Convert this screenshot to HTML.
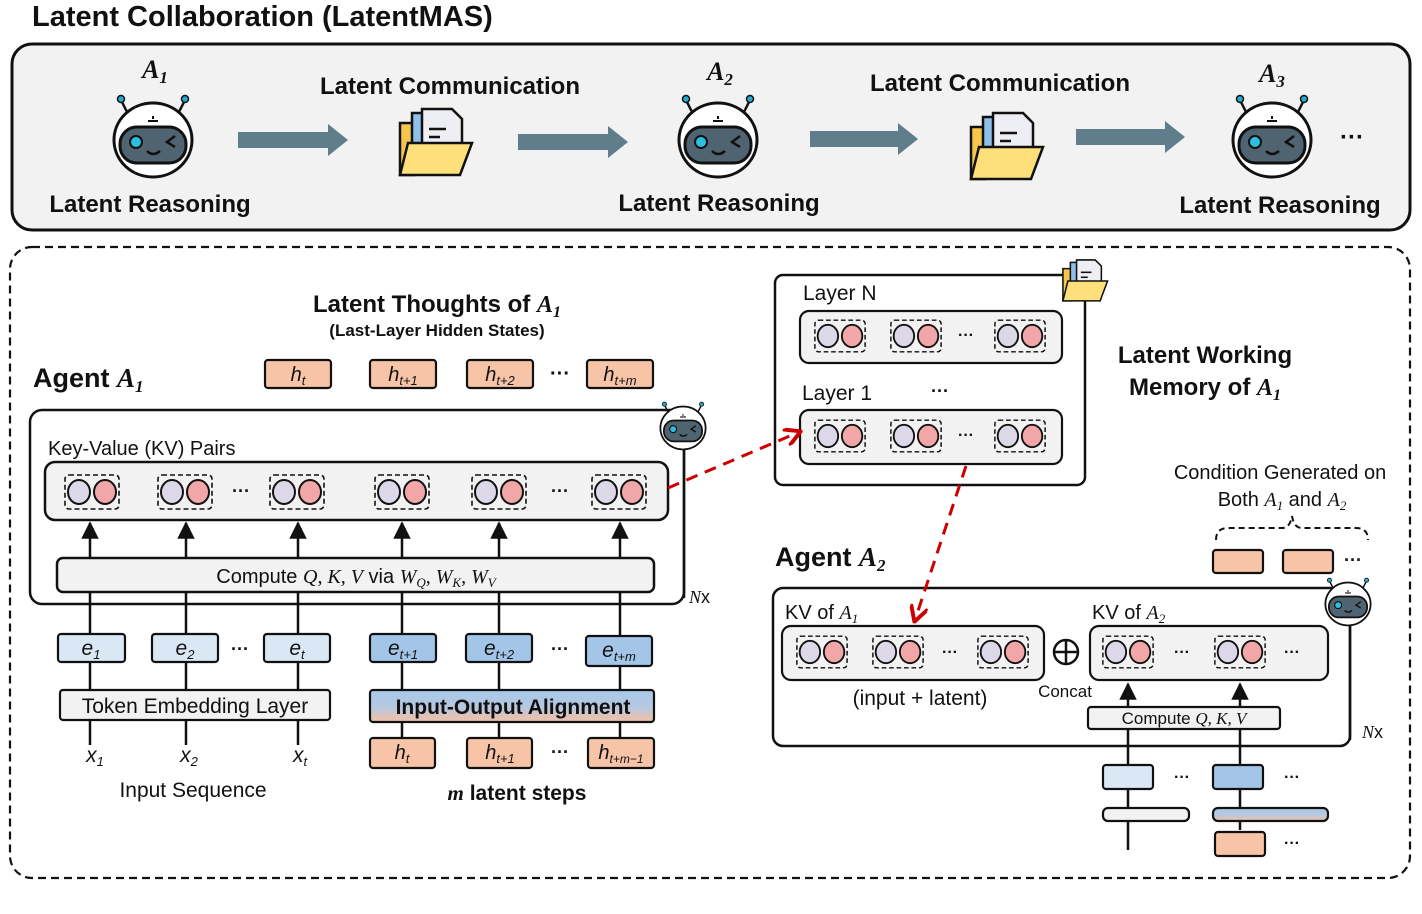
<!DOCTYPE html>
<html><head><meta charset="utf-8"><style>
html,body{margin:0;padding:0;background:#fff;}
svg{display:block;}
text{font-family:"Liberation Sans",sans-serif;fill:#111;}
.b{font-weight:bold;}
.m{font-family:"Liberation Serif",serif;font-style:italic;}
</style></head><body>
<svg width="1422" height="914" viewBox="0 0 1422 914" xmlns="http://www.w3.org/2000/svg">
<defs>
<linearGradient id="io" x1="0" y1="0" x2="0" y2="1"><stop offset="0" stop-color="#a8c8ea"/><stop offset="0.55" stop-color="#b6c8e0"/><stop offset="1" stop-color="#f6c0a4"/></linearGradient>
<g id="robot">
 <line x1="-26" y1="-28" x2="-32" y2="-40" stroke="#111" stroke-width="2.5"/>
 <line x1="26" y1="-28" x2="32" y2="-40" stroke="#111" stroke-width="2.5"/>
 <circle cx="-32" cy="-41" r="3.5" fill="#29a8d8" stroke="#111" stroke-width="1.5"/>
 <circle cx="32" cy="-41" r="3.5" fill="#29a8d8" stroke="#111" stroke-width="1.5"/>
 <ellipse cx="0" cy="0" rx="39" ry="37" fill="#fff" stroke="#111" stroke-width="3"/>
 <line x1="-5" y1="-19" x2="5" y2="-19" stroke="#111" stroke-width="2"/>
 <line x1="0" y1="-24" x2="0" y2="-21" stroke="#111" stroke-width="2"/>
 <rect x="-33" y="-13" width="66" height="36" rx="17" fill="#4f6470" stroke="#111" stroke-width="3"/>
 <circle cx="-17" cy="2" r="6" fill="#2bc0e0" stroke="#111" stroke-width="2"/>
 <polyline points="22,-4 14,2 22,7" fill="none" stroke="#111" stroke-width="2.5"/>
 <path d="M-6,11 Q0,17 7,11" fill="none" stroke="#111" stroke-width="2.5"/>
</g>
<g id="folder">
 <path d="M-34,-20 L-20,-20 L-20,32 L-34,32 Z" fill="#f6c64a" stroke="#111" stroke-width="2.5"/>
 <rect x="-22" y="-30" width="14" height="52" fill="#8ec0ea" stroke="#111" stroke-width="2.5"/>
 <path d="M-12,-34 L18,-34 L28,-24 L28,18 L-12,18 Z" fill="#eeeef5" stroke="#111" stroke-width="2.5"/>
 <line x1="-5" y1="-14" x2="12" y2="-14" stroke="#111" stroke-width="2.5"/>
 <line x1="-5" y1="-6" x2="6" y2="-6" stroke="#111" stroke-width="2.5"/>
 <path d="M-26,0 L38,0 L26,32 L-34,32 Z" fill="#fde07a" stroke="#111" stroke-width="2.5"/>
</g>
<g id="pair">
 <rect x="-27" y="-17" width="54" height="34" rx="4" fill="none" stroke="#111" stroke-width="1.6" stroke-dasharray="5,3"/>
 <ellipse cx="-13" cy="0" rx="11" ry="12" fill="#dcd8e8" stroke="#111" stroke-width="2"/>
 <ellipse cx="13" cy="0" rx="11" ry="12" fill="#f2a6a8" stroke="#111" stroke-width="2"/>
</g>
<marker id="ah" viewBox="0 0 10 10" refX="9" refY="5" markerWidth="7" markerHeight="7" orient="auto"><path d="M0,0 L10,5 L0,10 Z" fill="#111"/></marker>
<marker id="rh" viewBox="0 0 10 10" refX="8" refY="5" markerWidth="6" markerHeight="6" orient="auto"><path d="M0,0 L9,5 L0,10" fill="none" stroke="#c00" stroke-width="2.2"/></marker>
</defs>

<text x="32" y="26" font-size="29" class="b">Latent Collaboration (LatentMAS)</text>
<rect x="12" y="44" width="1398" height="186" rx="20" fill="#f2f2f2" stroke="#111" stroke-width="3"/>
<use href="#robot" transform="translate(153,140)"/>
<use href="#robot" transform="translate(718,140)"/>
<use href="#robot" transform="translate(1272,140)"/>
<g fill="#607d8b">
<path d="M238,132 L328,132 L328,124 L348,140 L328,156 L328,148 L238,148 Z"/>
<path d="M518,134 L608,134 L608,126 L628,142 L608,158 L608,150 L518,150 Z"/>
<path d="M810,131 L898,131 L898,123 L918,139 L898,155 L898,147 L810,147 Z"/>
<path d="M1076,129 L1165,129 L1165,121 L1185,137 L1165,153 L1165,145 L1076,145 Z"/>
</g>
<use href="#folder" transform="translate(434,143)"/>
<use href="#folder" transform="translate(1005,147)"/>
<text x="155" y="78" font-size="26" class="m b" text-anchor="middle">A<tspan font-size="17" dy="5">1</tspan></text>
<text x="720" y="80" font-size="26" class="m b" text-anchor="middle">A<tspan font-size="17" dy="5">2</tspan></text>
<text x="1272" y="82" font-size="26" class="m b" text-anchor="middle">A<tspan font-size="17" dy="5">3</tspan></text>
<text x="450" y="94" font-size="24" class="b" text-anchor="middle">Latent Communication</text>
<text x="1000" y="91" font-size="24" class="b" text-anchor="middle">Latent Communication</text>
<text x="150" y="212" font-size="24" class="b" text-anchor="middle">Latent Reasoning</text>
<text x="719" y="211" font-size="24" class="b" text-anchor="middle">Latent Reasoning</text>
<text x="1280" y="213" font-size="24" class="b" text-anchor="middle">Latent Reasoning</text>
<text x="1352" y="145" font-size="24" class="b" text-anchor="middle">···</text>

<rect x="10" y="247" width="1400" height="631" rx="22" fill="none" stroke="#111" stroke-width="2.2" stroke-dasharray="8,5"/>

<text x="437" y="312" font-size="24" class="b" text-anchor="middle">Latent Thoughts of <tspan class="m">A</tspan><tspan class="m" font-size="16" dy="5">1</tspan></text>
<text x="437" y="336" font-size="17" class="b" text-anchor="middle">(Last-Layer Hidden States)</text>
<text x="33" y="387" font-size="27" class="b">Agent <tspan class="m">A</tspan><tspan class="m" font-size="17" dy="5">1</tspan></text>
<g fill="#f7c4a8" stroke="#111" stroke-width="2.2">
<rect x="265" y="360" width="66" height="28" rx="3"/><rect x="370" y="360" width="66" height="28" rx="3"/>
<rect x="467" y="360" width="66" height="28" rx="3"/><rect x="587" y="360" width="66" height="28" rx="3"/>
</g>
<g font-size="20" class="m" text-anchor="middle">
<text x="298" y="381">h<tspan font-size="13" dy="4">t</tspan></text>
<text x="403" y="381">h<tspan font-size="13" dy="4">t+1</tspan></text>
<text x="500" y="381">h<tspan font-size="13" dy="4">t+2</tspan></text>
<text x="620" y="381">h<tspan font-size="13" dy="4">t+m</tspan></text>
</g>
<text x="560" y="380" font-size="20" class="b" text-anchor="middle">···</text>

<rect x="30" y="410" width="654" height="194" rx="12" fill="#fff" stroke="#111" stroke-width="2.5"/>
<line x1="684" y1="440" x2="684" y2="598" stroke="#111" stroke-width="2.5"/>
<use href="#robot" transform="translate(683,428) scale(0.58)"/>
<text x="48" y="455" font-size="20">Key-Value (KV) Pairs</text>
<rect x="45" y="462" width="623" height="58" rx="10" fill="#f2f2f2" stroke="#111" stroke-width="2.5"/>
<use href="#pair" transform="translate(92,492)"/><use href="#pair" transform="translate(185,492)"/>
<use href="#pair" transform="translate(297,492)"/><use href="#pair" transform="translate(402,492)"/>
<use href="#pair" transform="translate(499,492)"/><use href="#pair" transform="translate(619,492)"/>
<text x="241" y="497" font-size="18" class="b" text-anchor="middle">···</text>
<text x="560" y="497" font-size="18" class="b" text-anchor="middle">···</text>
<g stroke="#111" stroke-width="2.5">
<line x1="90" y1="745" x2="90" y2="523" marker-end="url(#ah)"/>
<line x1="186" y1="745" x2="186" y2="523" marker-end="url(#ah)"/>
<line x1="298" y1="745" x2="298" y2="523" marker-end="url(#ah)"/>
<line x1="402" y1="740" x2="402" y2="523" marker-end="url(#ah)"/>
<line x1="499" y1="740" x2="499" y2="523" marker-end="url(#ah)"/>
<line x1="620" y1="740" x2="620" y2="523" marker-end="url(#ah)"/>
</g>
<rect x="57" y="558" width="597" height="34" rx="6" fill="#f2f2f2" stroke="#111" stroke-width="2.5"/>
<text x="356" y="583" font-size="20" text-anchor="middle">Compute <tspan class="m">Q, K, V</tspan> via <tspan class="m">W</tspan><tspan class="m" font-size="13" dy="4">Q</tspan><tspan class="m" dy="-4">, W</tspan><tspan class="m" font-size="13" dy="4">K</tspan><tspan class="m" dy="-4">, W</tspan><tspan class="m" font-size="13" dy="4">V</tspan></text>
<text x="689" y="603" font-size="18"><tspan class="m">N</tspan>x</text>

<g stroke="#111" stroke-width="2.2">
<rect x="58" y="634" width="67" height="28" rx="3" fill="#dae8f5"/><rect x="152" y="634" width="66" height="28" rx="3" fill="#dae8f5"/>
<rect x="264" y="634" width="66" height="28" rx="3" fill="#dae8f5"/><rect x="370" y="634" width="66" height="28" rx="3" fill="#a3c6e8"/>
<rect x="466" y="634" width="66" height="28" rx="3" fill="#a3c6e8"/><rect x="586" y="636" width="66" height="30" rx="3" fill="#a3c6e8"/>
</g>
<g font-size="21" class="m" text-anchor="middle">
<text x="91" y="655">e<tspan font-size="13" dy="4">1</tspan></text>
<text x="185" y="655">e<tspan font-size="13" dy="4">2</tspan></text>
<text x="297" y="655">e<tspan font-size="13" dy="4">t</tspan></text>
<text x="403" y="655">e<tspan font-size="13" dy="4">t+1</tspan></text>
<text x="499" y="655">e<tspan font-size="13" dy="4">t+2</tspan></text>
<text x="619" y="657">e<tspan font-size="13" dy="4">t+m</tspan></text>
</g>
<text x="240" y="655" font-size="18" class="b" text-anchor="middle">···</text>
<text x="560" y="655" font-size="18" class="b" text-anchor="middle">···</text>
<rect x="60" y="690" width="270" height="30" rx="3" fill="#f2f2f2" stroke="#111" stroke-width="2.2"/>
<text x="195" y="713" font-size="21" text-anchor="middle">Token Embedding Layer</text>
<rect x="370" y="690" width="284" height="32" rx="3" fill="url(#io)" stroke="#111" stroke-width="2.2"/>
<text x="513" y="714" font-size="21" class="b" text-anchor="middle">Input-Output Alignment</text>
<g font-size="21" class="m" text-anchor="middle">
<text x="95" y="762">x<tspan font-size="13" dy="4">1</tspan></text>
<text x="189" y="762">x<tspan font-size="13" dy="4">2</tspan></text>
<text x="300" y="762">x<tspan font-size="13" dy="4">t</tspan></text>
</g>
<text x="193" y="797" font-size="21" text-anchor="middle">Input Sequence</text>
<g fill="#f7c4a8" stroke="#111" stroke-width="2.2">
<rect x="370" y="738" width="65" height="30" rx="3"/><rect x="467" y="738" width="65" height="30" rx="3"/><rect x="588" y="738" width="66" height="30" rx="3"/>
</g>
<g font-size="20" class="m" text-anchor="middle">
<text x="402" y="759">h<tspan font-size="13" dy="4">t</tspan></text>
<text x="500" y="759">h<tspan font-size="13" dy="4">t+1</tspan></text>
<text x="621" y="759">h<tspan font-size="12" dy="4">t+m−1</tspan></text>
</g>
<text x="560" y="758" font-size="18" class="b" text-anchor="middle">···</text>
<text x="517" y="800" font-size="21" class="b" text-anchor="middle"><tspan class="m">m</tspan> latent steps</text>

<rect x="775" y="275" width="310" height="210" rx="8" fill="#fff" stroke="#111" stroke-width="2.5"/>
<use href="#folder" transform="translate(1084,281) scale(0.62)"/>
<text x="803" y="300" font-size="21">Layer N</text>
<rect x="800" y="311" width="262" height="52" rx="9" fill="#f2f2f2" stroke="#111" stroke-width="2.2"/>
<use href="#pair" transform="translate(840,336) scale(0.93)"/><use href="#pair" transform="translate(916,336) scale(0.93)"/><use href="#pair" transform="translate(1020,336) scale(0.93)"/>
<text x="966" y="340" font-size="16" class="b" text-anchor="middle">···</text>
<text x="802" y="400" font-size="21">Layer 1</text>
<text x="940" y="397" font-size="18" class="b" text-anchor="middle">···</text>
<rect x="800" y="410" width="262" height="54" rx="9" fill="#f2f2f2" stroke="#111" stroke-width="2.2"/>
<use href="#pair" transform="translate(840,436) scale(0.93)"/><use href="#pair" transform="translate(916,436) scale(0.93)"/><use href="#pair" transform="translate(1020,436) scale(0.93)"/>
<text x="966" y="440" font-size="16" class="b" text-anchor="middle">···</text>
<text x="1205" y="363" font-size="24" class="b" text-anchor="middle">Latent Working</text>
<text x="1205" y="395" font-size="24" class="b" text-anchor="middle">Memory of <tspan class="m">A</tspan><tspan class="m" font-size="16" dy="5">1</tspan></text>
<line x1="668" y1="488" x2="799" y2="432" stroke="#c00" stroke-width="3" stroke-dasharray="12,8" marker-end="url(#rh)"/>

<text x="1280" y="479" font-size="20" text-anchor="middle">Condition Generated on</text>
<text x="1282" y="506" font-size="20" text-anchor="middle">Both <tspan class="m">A</tspan><tspan class="m" font-size="13" dy="4">1</tspan><tspan dy="-4"> and </tspan><tspan class="m">A</tspan><tspan class="m" font-size="13" dy="4">2</tspan></text>
<path d="M1216,540 Q1216,528 1228,528 L1282,528 Q1290,528 1292,516 Q1294,528 1302,528 L1356,528 Q1368,528 1368,540" fill="none" stroke="#111" stroke-width="2" stroke-dasharray="6,4"/>
<g fill="#f7c4a8" stroke="#111" stroke-width="2.2">
<rect x="1213" y="550" width="50" height="23" rx="3"/><rect x="1283" y="550" width="50" height="23" rx="3"/>
</g>
<text x="1353" y="566" font-size="18" class="b" text-anchor="middle">···</text>

<text x="775" y="566" font-size="27" class="b">Agent <tspan class="m">A</tspan><tspan class="m" font-size="17" dy="5">2</tspan></text>
<rect x="773" y="588" width="577" height="158" rx="10" fill="#fff" stroke="#111" stroke-width="2.5"/>
<line x1="1350" y1="620" x2="1350" y2="740" stroke="#111" stroke-width="2.5"/>
<use href="#robot" transform="translate(1348,604) scale(0.58)"/>
<text x="785" y="619" font-size="20">KV of <tspan class="m">A</tspan><tspan class="m" font-size="13" dy="4">1</tspan></text>
<rect x="782" y="626" width="262" height="54" rx="9" fill="#f2f2f2" stroke="#111" stroke-width="2.2"/>
<use href="#pair" transform="translate(822,652) scale(0.93)"/><use href="#pair" transform="translate(898,652) scale(0.93)"/><use href="#pair" transform="translate(1003,652) scale(0.93)"/>
<text x="950" y="657" font-size="16" class="b" text-anchor="middle">···</text>
<circle cx="1066" cy="652" r="12" fill="none" stroke="#111" stroke-width="2.5"/>
<line x1="1054" y1="652" x2="1078" y2="652" stroke="#111" stroke-width="2.5"/><line x1="1066" y1="640" x2="1066" y2="664" stroke="#111" stroke-width="2.5"/>
<text x="1065" y="697" font-size="17" text-anchor="middle">Concat</text>
<text x="920" y="705" font-size="21" text-anchor="middle">(input + latent)</text>
<text x="1092" y="619" font-size="20">KV of <tspan class="m">A</tspan><tspan class="m" font-size="13" dy="4">2</tspan></text>
<rect x="1090" y="626" width="238" height="54" rx="9" fill="#f2f2f2" stroke="#111" stroke-width="2.2"/>
<use href="#pair" transform="translate(1128,652) scale(0.93)"/><use href="#pair" transform="translate(1240,652) scale(0.93)"/>
<text x="1182" y="657" font-size="16" class="b" text-anchor="middle">···</text>
<text x="1292" y="657" font-size="16" class="b" text-anchor="middle">···</text>
<g stroke="#111" stroke-width="2.5">
<line x1="1128" y1="850" x2="1128" y2="684" marker-end="url(#ah)"/>
<line x1="1240" y1="830" x2="1240" y2="684" marker-end="url(#ah)"/>
</g>
<rect x="1088" y="707" width="192" height="22" rx="3" fill="#f2f2f2" stroke="#111" stroke-width="2.2"/>
<text x="1184" y="724" font-size="17" text-anchor="middle">Compute <tspan class="m">Q, K, V</tspan></text>
<text x="1362" y="738" font-size="18"><tspan class="m">N</tspan>x</text>
<g stroke="#111" stroke-width="2.2">
<rect x="1103" y="765" width="50" height="24" rx="3" fill="#dae8f5"/>
<rect x="1213" y="765" width="50" height="24" rx="3" fill="#a3c6e8"/>
<rect x="1103" y="808" width="86" height="13" rx="5" fill="#f2f2f2"/>
<rect x="1213" y="808" width="115" height="13" rx="5" fill="url(#io)"/>
<rect x="1215" y="832" width="50" height="24" rx="3" fill="#f7c4a8"/>
</g>
<text x="1182" y="782" font-size="16" class="b" text-anchor="middle">···</text>
<text x="1292" y="782" font-size="16" class="b" text-anchor="middle">···</text>
<text x="1292" y="848" font-size="16" class="b" text-anchor="middle">···</text>
<line x1="966" y1="466" x2="915" y2="620" stroke="#c00" stroke-width="3" stroke-dasharray="12,8" marker-end="url(#rh)"/>
</svg>
</body></html>
